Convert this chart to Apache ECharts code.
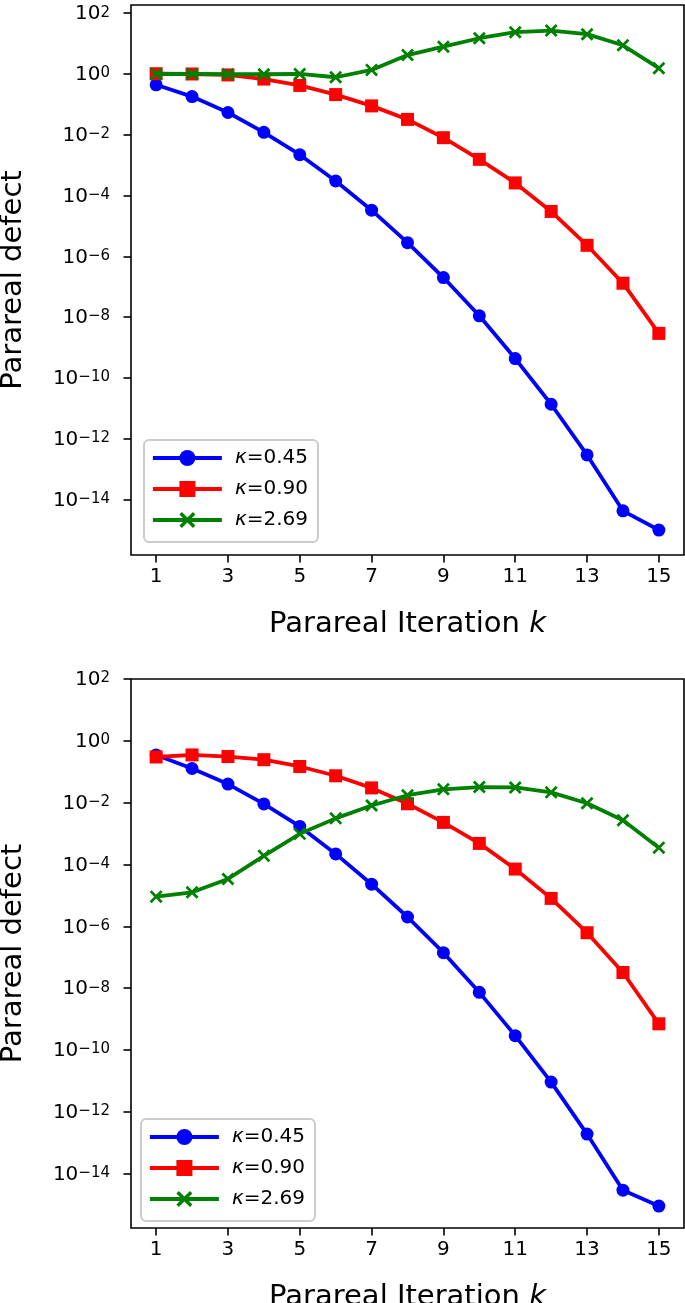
<!DOCTYPE html>
<html><head><meta charset="utf-8">
<script src="https://cdn.jsdelivr.net/npm/echarts@6/dist/echarts.min.js"></script>
<style>html,body{margin:0;padding:0;background:#fff}#c{width:685px;height:1303px}</style>
</head><body><div id="c"></div>
<script>
const iterations = [1,2,3,4,5,6,7,8,9,10,11,12,13,14,15];
const xTicks = [1,3,5,7,9,11,13,15];
const yTickExponents = [-14,-12,-10,-8,-6,-4,-2,0,2];
const seriesNames = ['κ=0.45','κ=0.90','κ=2.69'];
const colors = ['#0000ff','#ff0000','#008000'];

// top panel
const topK045 = [0.44,0.18,0.054,0.012,0.0022,3.0e-4,3.3e-5,2.8e-6,2.0e-7,1.1e-8,4.3e-10,1.35e-11,2.9e-13,4.2e-15,9.8e-16];
const topK090 = [1.02,1.0,0.93,0.68,0.42,0.21,0.089,0.032,0.008,0.00155,2.6e-4,3.0e-5,2.3e-6,1.3e-7,2.9e-9];
const topK269 = [1.0,1.0,0.98,0.98,1.0,0.78,1.36,4.2,7.9,15,23.7,26.9,20.4,8.8,1.55];
// bottom panel
const botK045 = [0.35,0.127,0.040,0.0091,0.0017,2.2e-4,2.3e-5,2.0e-6,1.4e-7,7.3e-9,2.9e-10,9.1e-12,1.9e-13,2.9e-15,8.9e-16];
const botK090 = [0.30,0.35,0.31,0.245,0.148,0.074,0.030,0.0092,0.0023,4.8e-4,7.1e-5,8.0e-6,6.2e-7,3.2e-8,7.0e-10];
const botK269 = [9.1e-6,1.26e-5,3.4e-5,1.9e-4,9.8e-4,0.0031,0.0081,0.0174,0.027,0.032,0.031,0.0215,0.0096,0.0027,3.5e-4];

const FONT = 'DejaVu Sans';
const xSymbol = 'path://M0,1.5 L1.5,0 L5,3.5 L8.5,0 L10,1.5 L6.5,5 L10,8.5 L8.5,10 L5,6.5 L1.5,10 L0,8.5 L3.5,5 Z';
const symbols = ['circle','rect',xSymbol];
const symSizes = [13,13,13];
const LW = 3.8;

const chart = echarts.init(document.getElementById('c'), null, {renderer:'canvas'});

function xAxisCfg(gi){
  return {
    type:'value', gridIndex:gi, min:0.3, max:15.7,
    splitLine:{show:false},
    axisLine:{show:false},
    axisTick:{show:true, inside:false, length:7.5, lineStyle:{color:'#000', width:1.6}, customValues:xTicks},
    axisLabel:{customValues:xTicks, margin:12, color:'#000', fontFamily:FONT, fontSize:20},
    name:'{a|Parareal Iteration }{k|k}', nameLocation:'middle', nameGap:55,
    nameTextStyle:{rich:{a:{fontFamily:FONT,fontSize:29,color:'#000'},k:{fontFamily:FONT,fontSize:29,fontStyle:'italic',color:'#000'}}}
  };
}
function yAxisCfg(gi, minExp, maxExp){
  const tv = yTickExponents.map(e=>Math.pow(10,e));
  return {
    type:'log', logBase:10, gridIndex:gi, min:Math.pow(10,minExp), max:Math.pow(10,maxExp),
    splitLine:{show:false}, minorTick:{show:false}, minorSplitLine:{show:false},
    axisLine:{show:false},
    axisTick:{show:true, inside:false, length:7.5, lineStyle:{color:'#000', width:1.6}, customValues:tv},
    axisLabel:{customValues:tv, margin:21, color:'#000', fontFamily:FONT,
      formatter:function(v){ const e=Math.round(Math.log10(v)); return '{b|10}{s|'+(e<0?'\u2212'+(-e):e)+'}'; },
      rich:{b:{fontFamily:FONT,fontSize:20,lineHeight:20,padding:[5,0,3,0],verticalAlign:'middle',color:'#000'},
            s:{fontFamily:FONT,fontSize:15,lineHeight:15,padding:[2,0,0,0],verticalAlign:'top',color:'#000'}}},
    name:'Parareal defect', nameLocation:'middle', nameRotate:90, nameGap:103,
    nameTextStyle:{fontFamily:FONT,fontSize:29,color:'#000'}
  };
}
function mkSeries(gi, arrs){
  return arrs.map((arr,i)=>({
    name:seriesNames[i], type:'line', xAxisIndex:gi, yAxisIndex:gi,
    data:iterations.map((k,j)=>[k,arr[j]]),
    symbol:symbols[i], symbolSize:symSizes[i], showAllSymbol:true,
    lineStyle:{color:colors[i], width:LW}, itemStyle:{color:colors[i]},
    emphasis:{disabled:true}, animation:false, z:2+i
  }));
}
function legendCfg(left, top){
  return {
    orient:'vertical', left:left, top:top, data:seriesNames,
    padding:[8,10,12,7], itemWidth:69, itemHeight:20, itemGap:11,
    backgroundColor:'#fff', borderColor:'#cccccc', borderWidth:2, borderRadius:5,
    selectedMode:false, lineStyle:{width:LW},
    formatter:function(n){ return '{i|κ}{n|'+n.slice(1)+'}'; },
    textStyle:{rich:{i:{fontFamily:FONT,fontSize:20,fontStyle:'italic',color:'#000',padding:[0,0,0,8]},
                     n:{fontFamily:FONT,fontSize:20,color:'#000'}}}
  };
}
chart.setOption({
  backgroundColor:'#fff',
  animation:false,
  grid:[
    {left:131, right:1, top:5, height:550, show:true, borderColor:'#000', borderWidth:1.6, backgroundColor:'transparent', containLabel:false, outerBoundsMode:'none'},
    {left:131, right:1, top:679, height:549, show:true, borderColor:'#000', borderWidth:1.6, backgroundColor:'transparent', containLabel:false, outerBoundsMode:'none'}
  ],
  xAxis:[xAxisCfg(0), xAxisCfg(1)],
  yAxis:[yAxisCfg(0,-15.83,2.27), yAxisCfg(1,-15.76,2)],
  legend:[legendCfg(144,440), legendCfg(141,1119)],
  series:[].concat(mkSeries(0,[topK045,topK090,topK269]), mkSeries(1,[botK045,botK090,botK269]))
});
</script></body></html>
